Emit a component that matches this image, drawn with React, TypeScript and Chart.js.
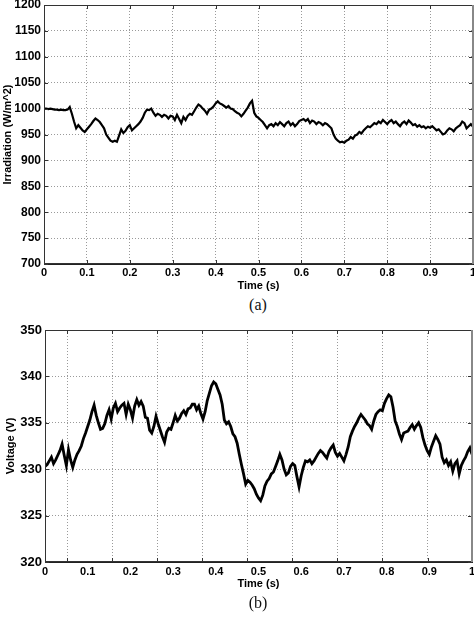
import React, { useEffect, useRef } from 'react';
import { Chart, registerables } from 'chart.js';

Chart.register(...registerables);

const FONT = "'Liberation Sans', Arial, sans-serif";
const GRID_COLOR = '#9a9a9a';

const TIME_STEP = 0.005;

const IRRADIATION = [
  1000, 1000, 999, 1000, 999, 998, 998, 997, 998, 997, 997, 998, 1003, 990, 975, 962, 968, 963, 958, 955,
  960, 965, 970, 976, 981, 978, 974, 968, 962, 950, 944, 938, 936, 938, 936, 948, 960, 953, 957, 964,
  968, 958, 962, 966, 970, 975, 982, 992, 998, 997, 1000, 992, 986, 990, 988, 984, 988, 986, 981, 986,
  985, 978, 988, 980, 972, 984, 978, 986, 990, 988, 995, 1002, 1008, 1005, 1000, 996, 990, 998, 1000, 1004,
  1010, 1014, 1010, 1008, 1005, 1002, 1005, 1000, 999, 995, 992, 990, 985, 990, 996, 1002, 1010, 1015, 992, 985,
  982, 978, 974, 968, 962, 968, 970, 966, 972, 968, 974, 970, 966, 972, 975, 968, 972, 966, 970, 976,
  978, 980, 976, 980, 972, 977, 975, 970, 974, 972, 968, 972, 970, 966, 962, 950, 942, 938, 935, 936,
  934, 938, 940, 945, 942, 948, 950, 955, 952, 958, 962, 966, 964, 968, 972, 970, 975, 972, 978, 974,
  970, 975, 978, 972, 975, 970, 966, 972, 975, 970, 977, 973, 968, 970, 965, 968, 964, 966, 962, 965,
  963, 966, 962, 958, 960, 955, 950, 952, 958, 962, 960, 956, 962, 965, 968, 975, 972, 962, 966, 970,
  965,
];

const VOLTAGE = [
  330.3, 330.5, 330.9, 331.3, 330.6, 331.0, 331.5, 332.0, 332.7, 331.5, 330.4, 332.1, 331.0, 330.2, 331.0, 331.6, 332.0, 332.5, 333.3, 333.9,
  334.6, 335.3, 336.2, 336.9, 335.8, 335.0, 334.3, 334.4, 334.9, 335.8, 336.4, 335.4, 336.6, 337.1, 336.2, 336.6, 336.9, 337.1, 335.9, 337.0,
  336.4, 335.5, 336.8, 337.5, 336.9, 337.3, 336.8, 335.6, 335.5, 334.2, 333.9, 334.6, 335.7, 334.9, 334.2, 333.5, 332.9, 334.0, 334.4, 334.3,
  335.0, 335.8, 335.2, 335.5, 336.0, 336.3, 335.9, 336.5, 336.6, 337.0, 337.0, 336.4, 336.8, 336.0, 335.4, 336.2, 337.4, 338.2, 339.0, 339.4,
  339.2, 338.6, 338.0, 337.0, 335.3, 334.9, 335.1, 334.6, 333.8, 333.5, 332.8, 331.6, 330.5, 329.5, 328.4, 328.8, 328.6, 328.3, 327.9, 327.3,
  326.9, 326.6, 327.2, 328.2, 328.7, 329.0, 329.5, 329.7, 330.3, 330.9, 331.6, 331.0, 330.0, 329.4, 329.6, 330.3, 330.6, 330.4, 329.2, 328.1,
  329.3, 330.2, 330.9, 330.8, 331.0, 330.6, 330.9, 331.3, 331.7, 332.0, 331.8, 331.5, 331.2, 331.9, 332.3, 332.6, 331.8, 331.4, 331.7, 331.3,
  330.9, 331.6, 332.4, 333.5, 334.1, 334.6, 335.0, 335.5, 335.9, 335.6, 335.3, 334.9, 334.7, 334.3, 335.2, 335.9, 336.2, 336.4, 336.3, 337.1,
  337.6, 338.0, 337.8, 336.7, 335.2, 334.6, 333.8, 333.2, 333.9, 334.0, 334.1, 334.5, 334.8, 334.3, 334.7, 335.0, 334.5, 333.4, 332.6, 332.0,
  331.6, 332.4, 333.0, 333.6, 333.2, 332.7, 331.3, 330.7, 331.0, 330.4, 330.8, 329.8, 330.6, 330.9, 329.5, 330.4, 330.9, 331.3, 331.9, 332.3,
  331.6,
];

const X_TICK_LABELS = ['0', '0.1', '0.2', '0.3', '0.4', '0.5', '0.6', '0.7', '0.8', '0.9', '1'];
const IRR_TICK_LABELS = ['700', '750', '800', '850', '900', '950', '1000', '1050', '1100', '1150', '1200'];
const VOLT_TICK_LABELS = ['320', '325', '330', '335', '340', '350'];
const VOLT_GRID_TIMES = [0.052, 0.158, 0.263, 0.368, 0.474, 0.579, 0.685, 0.79, 0.896];

const toPoints = (vals: number[]) => vals.map((v, i) => ({ x: i * TIME_STEP, y: v }));

const framePlugin = {
  id: 'frame',
  afterDraw(chart: any, _args: any, opts: any) {
    const { ctx, chartArea } = chart;
    const { left, right, top, bottom } = chartArea;
    const xs = chart.scales[opts.xTickScale];
    const ys = chart.scales.y;
    ctx.save();
    ctx.strokeStyle = '#333';
    ctx.lineWidth = 1;
    ctx.beginPath();
    xs.ticks.forEach((t: any) => {
      const p = Math.round(xs.getPixelForValue(t.value)) + 0.5;
      ctx.moveTo(p, bottom);
      ctx.lineTo(p, bottom - 4);
      ctx.moveTo(p, top);
      ctx.lineTo(p, top + 4);
    });
    ys.ticks.forEach((t: any) => {
      const p = Math.round(ys.getPixelForValue(t.value)) + 0.5;
      ctx.moveTo(left, p);
      ctx.lineTo(left + 4, p);
      ctx.moveTo(right, p);
      ctx.lineTo(right - 4, p);
    });
    ctx.stroke();
    ctx.strokeStyle = '#333';
    ctx.lineWidth = 1;
    ctx.strokeRect(left + 0.5, top + 0.5, right - left - 1, bottom - top - 1);
    ctx.strokeStyle = '#888';
    ctx.lineWidth = 2;
    ctx.beginPath();
    ctx.moveTo(right, top);
    ctx.lineTo(right, bottom);
    ctx.stroke();
    ctx.restore();
  },
};

function tickFont(size: number) {
  return { family: FONT, size, weight: 'bold' as const };
}

function makeIrradiationConfig(): any {
  return {
    type: 'line',
    data: {
      datasets: [
        {
          data: toPoints(IRRADIATION),
          borderColor: '#000',
          borderWidth: 2.2,
          pointRadius: 0,
          tension: 0,
          fill: false,
        },
      ],
    },
    plugins: [framePlugin],
    options: {
      animation: false,
      responsive: false,
      devicePixelRatio: 1,
      events: [],
      layout: { padding: { top: 5, right: 1, left: 0, bottom: 0 } },
      plugins: { legend: { display: false }, tooltip: { enabled: false }, frame: { xTickScale: 'x' } },
      scales: {
        x: {
          type: 'linear',
          min: 0,
          max: 1,
          ticks: {
            stepSize: 0.1,
            autoSkip: false,
            maxRotation: 0,
            padding: 2,
            color: '#000',
            font: tickFont(11),
            callback: (_v: any, i: number) => X_TICK_LABELS[i],
          },
          grid: { color: GRID_COLOR, lineWidth: 1, drawTicks: false },
          border: { display: true, color: '#222', width: 1, dash: [1, 2] },
          title: {
            display: true,
            text: 'Time (s)',
            color: '#000',
            font: tickFont(11),
            padding: { top: 0, bottom: 3 },
          },
          afterFit: (s: any) => {
            s.height = 32;
            s.paddingLeft = 0;
            s.paddingRight = 0;
          },
        },
        y: {
          type: 'linear',
          min: 700,
          max: 1200,
          ticks: {
            stepSize: 50,
            padding: 3,
            color: '#000',
            font: tickFont(12),
            callback: (_v: any, i: number) => IRR_TICK_LABELS[i],
          },
          grid: { color: GRID_COLOR, lineWidth: 1, drawTicks: false },
          border: { display: true, color: '#222', width: 1, dash: [1, 2] },
          title: {
            display: true,
            text: 'Irradiation (W/m^2)',
            color: '#000',
            font: tickFont(11),
            padding: { top: 1, bottom: 0 },
          },
          afterFit: (s: any) => {
            s.width = 44;
            s.paddingTop = 0;
            s.paddingBottom = 0;
          },
        },
      },
    },
  };
}

function makeVoltageConfig(): any {
  return {
    type: 'line',
    data: {
      datasets: [
        {
          data: toPoints(VOLTAGE),
          borderColor: '#000',
          borderWidth: 2.8,
          pointRadius: 0,
          tension: 0,
          fill: false,
        },
      ],
    },
    plugins: [framePlugin],
    options: {
      animation: false,
      responsive: false,
      devicePixelRatio: 1,
      events: [],
      layout: { padding: { top: 14, right: 2, left: 0, bottom: 0 } },
      plugins: { legend: { display: false }, tooltip: { enabled: false }, frame: { xTickScale: 'xg' } },
      scales: {
        xg: {
          type: 'linear',
          position: 'bottom',
          min: 0,
          max: 1,
          afterBuildTicks: (s: any) => {
            s.ticks = VOLT_GRID_TIMES.map((v) => ({ value: v }));
          },
          ticks: { display: false },
          grid: { color: GRID_COLOR, lineWidth: 1, drawTicks: false },
          border: { display: false, dash: [1, 2] },
          afterFit: (s: any) => {
            s.height = 0;
            s.paddingLeft = 0;
            s.paddingRight = 0;
          },
        },
        x: {
          type: 'linear',
          position: 'bottom',
          min: 0,
          max: 1,
          ticks: {
            stepSize: 0.1,
            autoSkip: false,
            maxRotation: 0,
            padding: 3,
            color: '#000',
            font: tickFont(11),
            callback: (_v: any, i: number) => X_TICK_LABELS[i],
          },
          grid: { display: false, drawTicks: false },
          border: { display: true, color: '#222', width: 1 },
          title: {
            display: true,
            text: 'Time (s)',
            color: '#000',
            font: tickFont(11),
            padding: { top: 0, bottom: 5 },
          },
          afterFit: (s: any) => {
            s.height = 34;
            s.paddingLeft = 0;
            s.paddingRight = 0;
          },
        },
        y: {
          type: 'linear',
          min: 320,
          max: 345,
          ticks: {
            stepSize: 5,
            padding: 3,
            color: '#000',
            font: tickFont(13),
            callback: (_v: any, i: number) => VOLT_TICK_LABELS[i],
          },
          grid: { color: GRID_COLOR, lineWidth: 1, drawTicks: false },
          border: { display: true, color: '#222', width: 1, dash: [1, 2] },
          title: {
            display: true,
            text: 'Voltage (V)',
            color: '#000',
            font: tickFont(11),
            padding: { top: 4, bottom: 0 },
          },
          afterFit: (s: any) => {
            s.width = 45;
            s.paddingTop = 0;
            s.paddingBottom = 0;
          },
        },
      },
    },
  };
}

function ChartCanvas({ top, height, makeConfig }: { top: number; height: number; makeConfig: () => any }) {
  const ref = useRef<HTMLCanvasElement | null>(null);
  useEffect(() => {
    if (!ref.current) return;
    const chart = new Chart(ref.current, makeConfig());
    return () => chart.destroy();
  }, [makeConfig]);
  return (
    <canvas
      ref={ref}
      width={474}
      height={height}
      style={{ position: 'absolute', left: 0, top, width: 474, height }}
    />
  );
}

const captionStyle: React.CSSProperties = {
  position: 'absolute',
  left: 228,
  width: 60,
  textAlign: 'center',
  fontFamily: "'Liberation Serif', 'Times New Roman', serif",
  fontSize: 16,
  lineHeight: '16px',
  color: '#111',
};

export default function App() {
  return (
    <div
      style={{
        position: 'fixed',
        left: 0,
        top: 0,
        width: 474,
        height: 632,
        background: '#fff',
        overflow: 'hidden',
      }}
    >
      <ChartCanvas top={0} height={296} makeConfig={makeIrradiationConfig} />
      <div style={{ ...captionStyle, top: 297 }}>(a)</div>
      <ChartCanvas top={316} height={280} makeConfig={makeVoltageConfig} />
      <div style={{ ...captionStyle, top: 595 }}>(b)</div>
    </div>
  );
}
